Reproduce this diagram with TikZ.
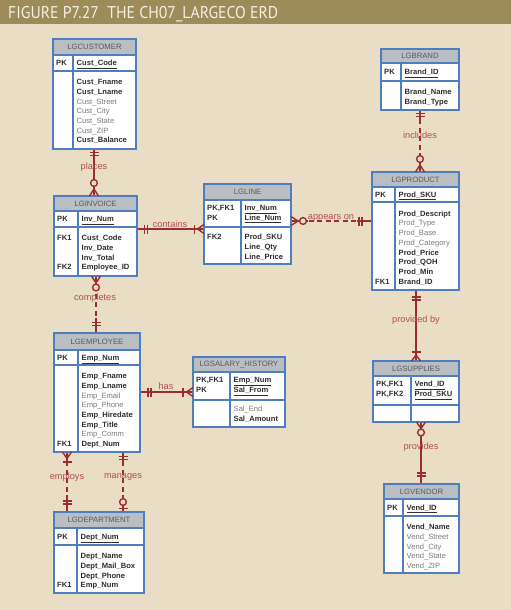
\documentclass[tikz,border=0pt]{standalone}
\usepackage{graphicx}
\usepackage{fontspec}
\setmainfont{Liberation Sans}
\newfontfamily\titlefont{PT Sans}
\usetikzlibrary{fit}
\definecolor{bgc}{HTML}{E9DDC5}
\definecolor{titlebar}{HTML}{9D8C59}
\definecolor{titletxt}{HTML}{F4F0E2}
\definecolor{hdrfill}{HTML}{B8BEC2}
\definecolor{entblue}{HTML}{4F7EC0}
\definecolor{relc}{HTML}{9B2D2D}
\definecolor{labc}{HTML}{B0504F}
\definecolor{attrdark}{HTML}{2E2E2E}
\definecolor{attrgrey}{HTML}{7C7C7C}
\definecolor{hdrtxtc}{HTML}{5A5A5A}
\newcommand\atb[1]{{\bfseries\color{attrdark}#1}}
\newcommand\atn[1]{{\color{attrgrey}#1}}
\newcommand\atk[1]{{\bfseries\color{attrdark}\underline{#1}}}
\tikzset{
 entline/.style={draw=entblue, line width=1.2pt},
 entbox/.style={draw=entblue, line width=1.2pt, inner sep=0pt},
 hdrtxt/.style={font=\fontsize{7.7}{8}\selectfont, text=hdrtxtc, inner sep=0pt},
 attr/.style={font=\fontsize{7.6}{8}\selectfont, inner sep=0pt, anchor=base west},
 rel/.style={draw=relc, line width=1.6pt},
 relthin/.style={draw=relc, line width=1.4pt},
 dashpat/.style={dash pattern=on 5pt off 3.5pt},
 lab/.style={font=\fontsize{9.2}{10}\selectfont, text=labc, inner sep=0pt},
}
% entity: name, left, top, right, header bottom, pk bottom, bottom, divider x, title
\newcommand\entity[9]{%
  \fill[hdrfill] (#2,#3) rectangle (#4,#5);
  \fill[white] (#2,#5) rectangle (#4,#7);
  \draw[entline] (#2,#5) -- (#4,#5) (#2,#6) -- (#4,#6) (#8,#5) -- (#8,#7);
  \node[entbox, fit={(#2,#3) (#4,#7)}] (#1) {};
  \node[hdrtxt] (#1-title) at ({(#2+#4)/2},{(#3+#5)/2}) {#9};
}
\newcommand\rowlist[4]{%
  \foreach \rtxt [count=\ri from 0] in {#4} {\node[attr] (#1-\ri) at (#2,{#3+\ri*9.7}) {\rtxt};}
}
\newcommand\keyt[4]{\node[attr] (#1) at (#2,#3) {\atb{#4}};}
% bar across a vertical line / a horizontal line
\newcommand\tickonV[2]{\draw[rel] ({#1-4.5},#2) -- ({#1+4.5},#2);}
\newcommand\tickonH[2]{\draw[rel] (#1,{#2-4.5}) -- (#1,{#2+4.5});}
\newcommand\ringat[2]{\draw[relthin, fill=bgc] (#1,#2) circle[radius=3.4pt];}
% crow's foot: x, y of point, y of toes  /  x of point, x of toes, y
\newcommand\crowV[3]{\draw[relthin] (#1,#2) -- ({#1-4.5},#3) (#1,#2) -- ({#1+4.5},#3);}
\newcommand\crowH[3]{\draw[relthin] (#1,#3) -- (#2,{#3-4.5}) (#1,#3) -- (#2,{#3+4.5});}
\begin{document}
\begin{tikzpicture}[x=1pt,y=-1pt]
\useasboundingbox (0,0) rectangle (511,610);
\fill[bgc] (0,0) rectangle (511,610);
\fill[titlebar] (0,0) rectangle (511,24);
\node[anchor=base west, inner sep=0pt, text=titletxt, font=\titlefont\fontsize{17}{18}\selectfont] (title) at (8,18.5) {\resizebox{270pt}{\height}{FIGURE P7.27\ \ THE CH07\_LARGECO ERD}};

% ---------- entities ----------
\entity{cust}{53}{39}{136}{55}{71}{149}{73}{LGCUSTOMER}
\keyt{cust-pk}{56}{65.7}{PK}
\node[attr] (cust-pka) at (76.5,65.7) {\atk{Cust\_Code}};
\rowlist{cust-a}{76.5}{84.7}{\atb{Cust\_Fname},\atb{Cust\_Lname},\atn{Cust\_Street},\atn{Cust\_City},\atn{Cust\_State},\atn{Cust\_ZIP},\atb{Cust\_Balance}}

\entity{brand}{381}{49}{459}{63}{81}{110}{401}{LGBRAND}
\keyt{brand-pk}{384}{74.7}{PK}
\node[attr] (brand-pka) at (404.5,74.7) {\atk{Brand\_ID}};
\rowlist{brand-a}{404.5}{94.7}{\atb{Brand\_Name},\atb{Brand\_Type}}

\entity{inv}{54}{196}{137}{211}{227}{276}{78}{LGINVOICE}
\keyt{inv-pk}{57}{221.7}{PK}
\node[attr] (inv-pka) at (81.5,221.7) {\atk{Inv\_Num}};
\keyt{inv-fk1}{57}{240.7}{FK1}
\keyt{inv-fk2}{57}{269.8}{FK2}
\rowlist{inv-a}{81.5}{240.7}{\atb{Cust\_Code},\atb{Inv\_Date},\atb{Inv\_Total},\atb{Employee\_ID}}

\entity{line}{204}{184}{291}{200}{227}{264}{241}{LGLINE}
\keyt{line-pk1}{207}{210.7}{PK,FK1}
\keyt{line-pk2}{207}{220.2}{PK}
\node[attr] (line-pka1) at (244.5,210.7) {\atk{Inv\_Num}};
\node[attr] (line-pka2) at (244.5,220.2) {\atk{Line\_Num}};
\keyt{line-fk2}{207}{239.7}{FK2}
\rowlist{line-a}{244.5}{239.7}{\atb{Prod\_SKU},\atb{Line\_Qty},\atb{Line\_Price}}

\entity{prod}{372}{172}{459}{187}{202}{290}{395}{LGPRODUCT}
\keyt{prod-pk}{375}{197.2}{PK}
\node[attr] (prod-pka) at (398.5,197.2) {\atk{Prod\_SKU}};
\rowlist{prod-a}{398.5}{216.2}{\atb{Prod\_Descript},\atn{Prod\_Type},\atn{Prod\_Base},\atn{Prod\_Category},\atb{Prod\_Price},\atb{Prod\_QOH},\atb{Prod\_Min},\atb{Brand\_ID}}
\keyt{prod-fk1}{375}{284.1}{FK1}

\entity{emp}{54}{333}{140}{350}{365}{452}{78}{LGEMPLOYEE}
\keyt{emp-pk}{57}{360.2}{PK}
\node[attr] (emp-pka) at (81.5,360.2) {\atk{Emp\_Num}};
\rowlist{emp-a}{81.5}{378.7}{\atb{Emp\_Fname},\atb{Emp\_Lname},\atn{Emp\_Email},\atn{Emp\_Phone},\atb{Emp\_Hiredate},\atb{Emp\_Title},\atn{Emp\_Comm},\atb{Dept\_Num}}
\keyt{emp-fk1}{57}{446.6}{FK1}

\entity{sal}{193}{357}{285}{372}{400}{427}{230}{LGSALARY\_HISTORY}
\keyt{sal-pk1}{196}{382.7}{PK,FK1}
\keyt{sal-pk2}{196}{392.4}{PK}
\node[attr] (sal-pka1) at (233.5,382.7) {\atk{Emp\_Num}};
\node[attr] (sal-pka2) at (233.5,392.4) {\atk{Sal\_From}};
\rowlist{sal-a}{233.5}{411.7}{\atn{Sal\_End},\atb{Sal\_Amount}}

\entity{sup}{373}{361}{459}{376}{405}{422}{411}{LGSUPPLIES}
\keyt{sup-pk1}{376}{386.7}{PK,FK1}
\keyt{sup-pk2}{376}{396.4}{PK,FK2}
\node[attr] (sup-pka1) at (414.5,386.7) {\atk{Vend\_ID}};
\node[attr] (sup-pka2) at (414.5,396.4) {\atk{Prod\_SKU}};

\entity{ven}{384}{484}{459}{499}{516}{573}{403}{LGVENDOR}
\keyt{ven-pk}{387}{510.2}{PK}
\node[attr] (ven-pka) at (406.5,510.2) {\atk{Vend\_ID}};
\rowlist{ven-a}{406.5}{529.7}{\atb{Vend\_Name},\atn{Vend\_Street},\atn{Vend\_City},\atn{Vend\_State},\atn{Vend\_ZIP}}

\entity{dept}{54}{512}{144}{528}{545}{593}{77}{LGDEPARTMENT}
\keyt{dept-pk}{57}{539.2}{PK}
\node[attr] (dept-pka) at (80.5,539.2) {\atk{Dept\_Num}};
\rowlist{dept-a}{80.5}{558.7}{\atb{Dept\_Name},\atb{Dept\_Mail\_Box},\atb{Dept\_Phone},\atb{Emp\_Num}}
\keyt{dept-fk1}{57}{587.8}{FK1}

% ---------- relationships ----------
% places: LGCUSTOMER -> LGINVOICE (solid)
\draw[rel] (cust.south -| 94,0) -- (inv.north -| 94,0);
\tickonV{94}{152.5}\tickonV{94}{155.5}
\ringat{94}{183}
\crowV{94}{189}{196}
\node[lab] (l-places) at (94,167) {places};

% contains: LGINVOICE -> LGLINE (solid)
\draw[rel] (inv.east |- 0,229) -- (line.west |- 0,229);
\tickonH{144.5}{229}\tickonH{147.5}{229}
\tickonH{194.5}{229}
\crowH{197.5}{204}{229}
\node[lab] (l-contains) at (170,224) {contains};

% appears on: LGLINE -> LGPRODUCT (dashed)
\draw[rel, dashpat] (line.east |- 0,221) -- (prod.west |- 0,221);
\draw[rel] (line.east |- 0,221) -- ++(16,0);
\draw[rel] (prod.west |- 0,221) -- ++(-14,0);
\crowH{298}{291}{221}
\ringat{303}{221}
\tickonH{359}{221}\tickonH{362}{221}
\node[lab] (l-appears) at (331,217.5) {appears on};

% includes: LGBRAND -> LGPRODUCT (dashed)
\draw[rel, dashpat] (brand.south -| 420,0) -- (prod.north -| 420,0);
\draw[rel] (brand.south -| 420,0) -- ++(0,10);
\draw[rel] (prod.north -| 420,0) -- ++(0,-16);
\tickonV{420}{113.5}\tickonV{420}{116.5}
\ringat{420}{159}
\crowV{420}{165}{172}
\node[lab] (l-includes) at (420,135) {includes};

% completes: LGINVOICE -> LGEMPLOYEE (dashed)
\draw[rel, dashpat] (inv.south -| 96,0) -- (emp.north -| 96,0);
\draw[rel] (inv.south -| 96,0) -- ++(0,14);
\draw[rel] (emp.north -| 96,0) -- ++(0,-14);
\crowV{96}{283}{276}
\ringat{96}{287.5}
\tickonV{96}{322.5}\tickonV{96}{325.5}
\node[lab] (l-completes) at (95,298) {completes};

% has: LGEMPLOYEE -> LGSALARY_HISTORY (solid)
\draw[rel] (emp.east |- 0,392) -- (sal.west |- 0,392);
\tickonH{148}{392}\tickonH{151}{392}
\tickonH{183}{392}
\crowH{186.5}{193}{392}
\node[lab] (l-has) at (166,386) {has};

% provided by: LGPRODUCT -> LGSUPPLIES (solid)
\draw[rel] (prod.south -| 416,0) -- (sup.north -| 416,0);
\tickonV{416}{297}\tickonV{416}{300}
\tickonV{416}{352}
\crowV{416}{355}{361}
\node[lab] (l-provby) at (416,320) {provided by};

% provides: LGSUPPLIES -> LGVENDOR (solid)
\draw[rel] (sup.south -| 421,0) -- (ven.north -| 421,0);
\crowV{421}{428.5}{422}
\ringat{421}{432.5}
\tickonV{421}{473}\tickonV{421}{476}
\node[lab] (l-provides) at (421,447) {provides};

% employs: LGDEPARTMENT -> LGEMPLOYEE (dashed)
\draw[rel, dashpat] (emp.south -| 67,0) -- (dept.north -| 67,0);
\draw[rel] (emp.south -| 67,0) -- ++(0,13);
\draw[rel] (dept.north -| 67,0) -- ++(0,-15);
\crowV{67}{458.5}{452}
\tickonV{67}{462}
\tickonV{67}{501}\tickonV{67}{504}
\node[lab] (l-employs) at (67,477) {employs};

% manages: LGEMPLOYEE -> LGDEPARTMENT (dashed)
\draw[rel, dashpat] (emp.south -| 123,0) -- (dept.north -| 123,0);
\draw[rel] (emp.south -| 123,0) -- ++(0,12);
\draw[rel] (dept.north -| 123,0) -- ++(0,-15);
\tickonV{123}{456.5}\tickonV{123}{459.5}
\ringat{123}{502}
\tickonV{123}{508.5}
\node[lab] (l-manages) at (123,477) {manages};

\end{tikzpicture}
\end{document}
